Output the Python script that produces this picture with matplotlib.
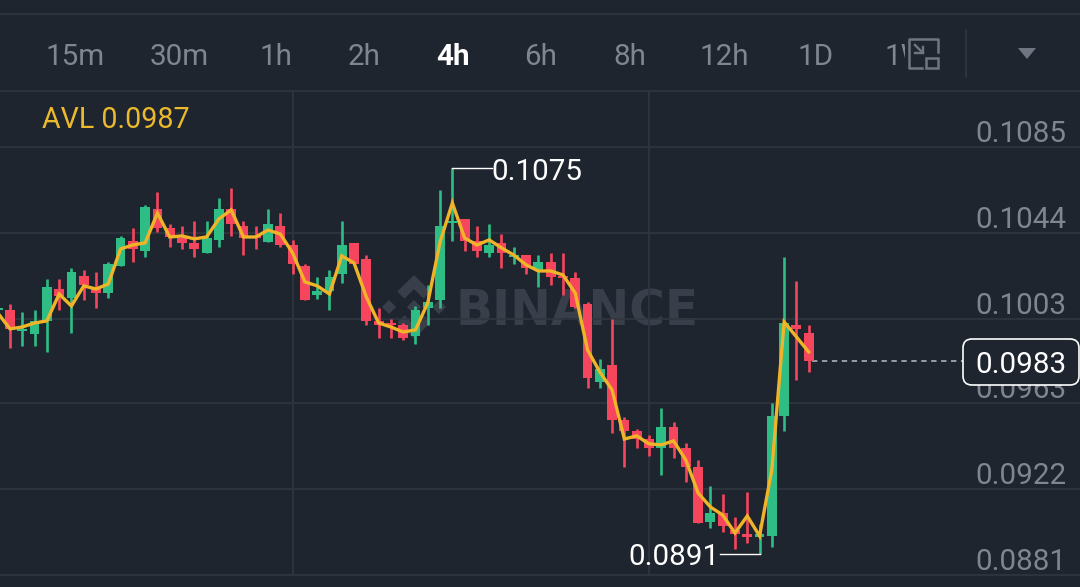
import matplotlib
matplotlib.use("Agg")
import matplotlib.pyplot as plt
from matplotlib.patches import Polygon, Rectangle, FancyBboxPatch

plt.rcParams['font.family'] = ['Roboto', 'DejaVu Sans']

# Candles
open_p = [.10073, .10073, .09973, .09959, .10021, .10173, .10130, .10235, .10173, .10154,
          .10283, .10402, .10354, .10555, .10464, .10416, .10393, .10345, .10407, .10555,
          .10474, .10426, .10397, .10474, .10383, .10283, .10145, .10164, .10245, .10393,
          .10316, .10021, .10011, .10002, .09949, .10083, .10121, .10488, .10507, .10402,
          .10345, .10393, .10326, .10335, .10264, .10302, .10235, .10226, .10102, .09730,
          .09811, .09549, .09497, .09458, .09415, .09516, .09415, .09325, .09063, .09106,
          .09025, .09006, .08991, .08996, .09568, .10002, .09964]
high_p = [.10087, .10102, .10064, .10073, .10221, .10221, .10273, .10264, .10254, .10302,
          .10426, .10464, .10574, .10636, .10483, .10474, .10497, .10497, .10607, .10655,
          .10497, .10474, .10555, .10535, .10407, .10292, .10230, .10264, .10497, .10393,
          .10335, .10083, .10030, .10011, .10092, .10192, .10645, .10750, .10507, .10474,
          .10483, .10435, .10373, .10335, .10335, .10345, .10345, .10254, .10111, .09840,
          .10030, .09563, .09506, .09477, .09606, .09539, .09439, .09358, .09234, .09196,
          .09087, .09206, .09053, .09630, .10326, .10211, .10002]
low_p = [.10068, .09892, .09902, .09902, .09873, .10073, .09964, .10121, .10083, .10130,
         .10283, .10302, .10326, .10445, .10373, .10364, .10326, .10345, .10373, .10426,
         .10335, .10364, .10397, .10373, .10245, .10121, .10126, .10073, .10202, .10292,
         .10002, .09940, .09940, .09930, .09911, .10002, .10083, .10402, .10354, .10326,
         .10326, .10273, .10292, .10245, .10183, .10192, .10145, .10083, .09701, .09701,
         .09487, .09325, .09415, .09377, .09287, .09368, .09253, .09058, .09034, .09015,
         .08934, .08963, .08910, .08944, .09497, .09740, .09778]
close_p = [.10083, .09983, .09983, .10021, .10183, .10140, .10254, .10192, .10154, .10292,
           .10416, .10364, .10564, .10464, .10421, .10393, .10364, .10416, .10555, .10483,
           .10416, .10416, .10483, .10383, .10292, .10121, .10164, .10230, .10383, .10292,
           .10021, .10002, .10002, .09940, .10073, .10111, .10474, .10497, .10402, .10354,
           .10383, .10345, .10335, .10273, .10302, .10230, .10226, .10087, .09749, .09792,
           .09549, .09497, .09458, .09415, .09516, .09415, .09325, .09058, .09106, .09044,
           .09006, .08991, .09006, .09568, .10011, .09983, .09830]
avl = [.10059, .09983, .09992, .10011, .10021, .10149, .10092, .10188, .10173, .10197,
       .10364, .10383, .10393, .10535, .10421, .10426, .10412, .10421, .10507, .10550,
       .10421, .10421, .10454, .10435, .10345, .10207, .10188, .10149, .10331, .10297,
       .10135, .10011, .09992, .09968, .09978, .10107, .10397, .10583, .10416, .10383,
       .10407, .10369, .10335, .10288, .10259, .10259, .10240, .10154, .09883, .09778,
       .09692, .09458, .09473, .09435, .09430, .09449, .09358, .09201, .09134, .09096,
       .09010, .09091, .08996, .09311, .10016, .09945, .09873]

price_ticks = [0.1085, 0.1044, 0.1003, 0.0963, 0.0922, 0.0881]
time_grid = [24, 53]
intervals = ['15m', '30m', '1h', '2h', '4h', '6h', '8h', '12h', '1D', '1W']
interval_x = [75, 179, 276, 364, 453, 541, 630, 724, 816, 906]

BG = '#1f252f'
GRID = '#30363f'
GREY = '#7f868f'
ICON = '#6f7682'
GREEN = '#2ebd85'
RED = '#f6465d'
YELLOW = '#f0b428'
MARK = '#393f4a'
FS = 21.3

fig = plt.figure(figsize=(10.8, 5.87), dpi=100, facecolor=BG)

# bottom layer for the watermark, top layer for the header, both in pixels
back = fig.add_axes([0, 0, 1, 1], zorder=0)
back.set_xlim(0, 1080)
back.set_ylim(587, 0)
back.axis('off')

ax = fig.add_axes([0, 11 / 587, 1, 484 / 587], zorder=1)
ax.patch.set_visible(False)
ax.set_xlim(0.187, 88.08)
ax.set_ylim(0.08805, 0.11112)
for side in ax.spines.values():
    side.set_visible(False)
ax.tick_params(left=False, bottom=False, labelleft=False, labelbottom=False)
ax.set_yticks(price_ticks)
ax.set_xticks(time_grid)
ax.grid(True, color=GRID, linewidth=1.2)
ax.set_axisbelow(True)

top = fig.add_axes([0, 0, 1, 1], zorder=2)
top.patch.set_visible(False)
top.set_xlim(0, 1080)
top.set_ylim(587, 0)
top.axis('off')

# watermark
cx, cy, r = 414, 307, 32
logo = [
    [(0, 1), (.52, .48), (.3, .26), (0, .56), (-.3, .26), (-.52, .48)],
    [(0, -1), (.52, -.48), (.3, -.26), (0, -.56), (-.3, -.26), (-.52, -.48)],
    [(0, .22), (.22, 0), (0, -.22), (-.22, 0)],
    [(.78, .22), (1, 0), (.78, -.22), (.56, 0)],
    [(-.78, .22), (-1, 0), (-.78, -.22), (-.56, 0)],
]
for shape in logo:
    back.add_patch(Polygon([(cx + a * r, cy - b * r) for a, b in shape], color=MARK, lw=0))
back.text(455, 306, 'BINANCE', color=MARK, fontsize=35, fontweight='bold', family='DejaVu Sans',
          va='center_baseline', ha='left')

# candles
for i in range(len(open_p)):
    col = GREEN if close_p[i] >= open_p[i] else RED
    ax.plot([i, i], [low_p[i], high_p[i]], color=col, lw=1.9, solid_capstyle='butt', zorder=3)
    low_body = min(open_p[i], close_p[i])
    ax.bar(i, abs(close_p[i] - open_p[i]), bottom=low_body, width=0.8, color=col, zorder=3)

ax.plot(range(len(avl)), avl, color=YELLOW, lw=2.4, zorder=4, solid_joinstyle='miter')

# last price
last = close_p[-1]
ax.plot([66.3, 78.6], [last, last], color='#b9bdc4', lw=1.1, dashes=(3.5, 3), zorder=2)

# high and low marks
hi = high_p.index(max(high_p))
lo = low_p.index(min(low_p))
ax.plot([hi, hi + 3.25], [high_p[hi], high_p[hi]], color='white', lw=1, zorder=5)
ax.plot([lo, lo - 3.2], [low_p[lo], low_p[lo]], color='white', lw=1, zorder=5)
ax.text(hi + 3.2, high_p[hi] - 0.00004, '%.4f' % high_p[hi], color='white', fontsize=FS,
        va='center_baseline', ha='left', zorder=6)
ax.text(lo - 3.25, low_p[lo], '%.4f' % low_p[lo], color='white', fontsize=FS,
        va='center_baseline', ha='right', zorder=6)

# price labels sit just above their grid lines
for p in price_ticks:
    ax.annotate('%.4f' % p, xy=(975 / 1080, p), xycoords=('figure fraction', 'data'), xytext=(0, 16),
                textcoords='offset pixels', color=GREY, fontsize=FS, va='center_baseline', ha='left', zorder=5)

# header
top.plot([0, 1080], [14, 14], color=GRID, lw=1.2)
top.plot([0, 1080], [91, 91], color=GRID, lw=1.2)
for name, x in zip(intervals, interval_x):
    selected = name == '4h'
    top.text(x, 54, name, color='white' if selected else GREY, fontsize=FS,
             fontweight='bold' if selected else 'normal', ha='center', va='center_baseline', zorder=3)
# the expand icon hides the end of the interval strip
top.add_patch(Rectangle((905, 30), 41, 48, color=BG, lw=0, zorder=4))
top.plot([922, 909, 909, 938, 938], [68, 68, 39, 39, 52], color=ICON, lw=1.8, solid_joinstyle='round', zorder=5)
top.add_patch(Rectangle((926, 58), 12, 10, fill=False, ec=ICON, lw=1.8, zorder=5))
top.plot([915, 923], [45, 53], color=ICON, lw=1.7, zorder=5)
top.plot([923, 923, 915], [47, 53, 53], color=ICON, lw=1.7, zorder=5)
top.plot([966, 966], [30, 77], color=GRID, lw=1.2)
top.add_patch(Polygon([(1018, 48), (1036, 48), (1027, 59)], color=ICON, lw=0))
top.text(42, 117, 'AVL 0.0987', color='#ecb92c', fontsize=20.6, ha='left', va='center_baseline')

# last price tag
top.add_patch(FancyBboxPatch((968, 344), 106, 36, boxstyle='round,pad=5,rounding_size=9',
                             fc=BG, ec='white', lw=1.2, zorder=5))
top.text(975, 362, '%.4f' % last, color='white', fontsize=FS, ha='left', va='center_baseline', zorder=6)

fig.savefig('out.png', dpi=100, facecolor=BG)
